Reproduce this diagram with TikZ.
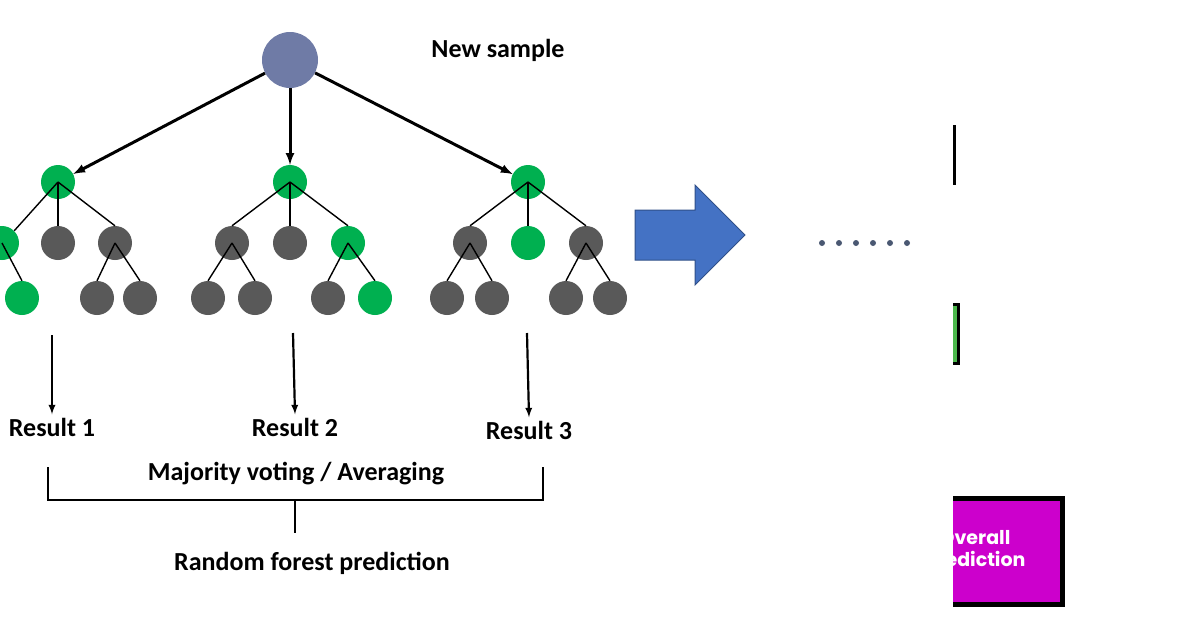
\documentclass[tikz,border=0pt]{standalone}
\usepackage{fontspec}
\setmainfont{Carlito}
\newfontfamily\popfont{Poppins}
\definecolor{leafgreen}{HTML}{00B050}
\definecolor{leafgray}{HTML}{595959}
\definecolor{rootblue}{HTML}{6F7BA6}
\definecolor{arrowblue}{HTML}{4472C4}
\definecolor{dotblue}{HTML}{4A5872}
\definecolor{boxpurple}{HTML}{CC00CC}
\tikzset{
  sel/.style = {circle, fill = leafgreen, minimum size = 34pt, inner sep = 0pt},
  oth/.style = {circle, fill = leafgray, minimum size = 34pt, inner sep = 0pt},
  branch/.style = {line width = 1.4pt},
  label text/.style = {font = \fontsize{26}{30}\selectfont\bfseries}
}
\begin{document}
\begin{tikzpicture}[x = 1pt, y = -1pt]
    \useasboundingbox (0, 0) rectangle (1200, 630);
    \node[circle, fill = rootblue, minimum size = 56pt, inner sep = 0pt] (sample) at (290, 60) {};
    \node[label text] (new sample) at (498, 50) {New sample};
    % first tree
    \node[sel] (t1) at (58, 182) {};
    \node[sel] (t1a) at (2, 243) {};
    \node[oth] (t1b) at (58, 243) {};
    \node[oth] (t1c) at (115, 243) {};
    \node[sel] (t1aa) at (22, 298) {};
    \node[oth] (t1ca) at (97, 298) {};
    \node[oth] (t1cb) at (140, 298) {};
    \draw[branch] (t1.center) -- (t1a.north east);
    \draw[branch] (t1.center) -- (t1b);
    \draw[branch] (t1.center) -- (t1c.north);
    \draw[branch] (t1a.center) -- (t1aa.north);
    \draw[branch] (t1c.center) -- (t1ca.north);
    \draw[branch] (t1c.center) -- (t1cb.north);
    % second tree
    \node[sel] (t2) at (290, 182) {};
    \node[oth] (t2a) at (232, 243) {};
    \node[oth] (t2b) at (290, 243) {};
    \node[sel] (t2c) at (348, 243) {};
    \node[oth] (t2aa) at (208, 298) {};
    \node[oth] (t2ab) at (255, 298) {};
    \node[oth] (t2ca) at (328, 298) {};
    \node[sel] (t2cb) at (375, 298) {};
    \draw[branch] (t2.center) -- (t2a.north);
    \draw[branch] (t2.center) -- (t2b);
    \draw[branch] (t2.center) -- (t2c.north);
    \draw[branch] (t2a.center) -- (t2aa.north);
    \draw[branch] (t2a.center) -- (t2ab.north);
    \draw[branch] (t2c.center) -- (t2ca.north);
    \draw[branch] (t2c.center) -- (t2cb.north);
    % third tree
    \node[sel] (t3) at (528, 182) {};
    \node[oth] (t3a) at (470, 243) {};
    \node[sel] (t3b) at (528, 243) {};
    \node[oth] (t3c) at (586, 243) {};
    \node[oth] (t3aa) at (447, 298) {};
    \node[oth] (t3ab) at (492, 298) {};
    \node[oth] (t3ca) at (566, 298) {};
    \node[oth] (t3cb) at (610, 298) {};
    \draw[branch] (t3.center) -- (t3a.north);
    \draw[branch] (t3.center) -- (t3b);
    \draw[branch] (t3.center) -- (t3c.north);
    \draw[branch] (t3a.center) -- (t3aa.north);
    \draw[branch] (t3a.center) -- (t3ab.north);
    \draw[branch] (t3c.center) -- (t3ca.north);
    \draw[branch] (t3c.center) -- (t3cb.north);
    \draw[->, line width = 3pt, >=latex] (sample) -- (t1);
    \draw[->, line width = 3pt, >=latex] (sample) -- (t2);
    \draw[->, line width = 3pt, >=latex] (sample) -- (t3);
    % results
    \coordinate (out1) at (52, 335);
    \coordinate (out2) at (293, 333);
    \coordinate (out3) at (527, 333);
    \node[label text] (result 1) at (52, 427) {Result 1};
    \node[label text] (result 2) at (295, 427) {Result 2};
    \node[label text] (result 3) at (529, 430) {Result 3};
    \draw[->, line width = 2.2pt, >=latex] (out1) -- (result 1.north);
    \draw[->, line width = 2.2pt, >=latex] (out2) -- (result 2.north);
    \draw[->, line width = 2.2pt, >=latex] (out3) -- (result 3.north);
    \node[label text] (voting) at (296, 474) {Majority voting / Averaging};
    \coordinate (brace left) at (48, 467);
    \coordinate (brace right) at (543, 467);
    \coordinate (brace mid) at (295, 500);
    \coordinate (brace tick) at (295, 533);
    \draw[line width = 1.4pt] (brace left) |- (brace right |- brace mid) -- (brace right);
    \draw[line width = 1.4pt] (brace mid) -- (brace tick);
    \node[label text] (forest prediction) at (312, 563) {Random forest prediction};
    % big arrow and the cut-off panel
    \draw[fill = arrowblue, draw = arrowblue!70!black, line width = 1pt]
      (635, 210) -- (695, 210) -- (695, 185) -- (745, 235) -- (695, 285) -- (695, 260) -- (635, 260) -- cycle;
    \foreach \dx in {0, 17, 34, 51, 68, 85}
      \fill[dotblue] (822 + \dx, 243) circle (3pt);
    \draw[line width = 3pt] (954, 125) -- (954, 185);
    \fill[green!60!black!70] (953, 303) rectangle (957, 365);
    \draw[line width = 3pt] (953, 304.5) -- (958.5, 304.5) -- (958.5, 363.5) -- (953, 363.5);
    \begin{scope}
      \clip (953, 490) rectangle (1070, 612);
      \draw[fill = boxpurple, line width = 5pt] (940, 498) rectangle (1062, 604);
      \node[text = white, align = center, font = \popfont\fontsize{19}{22}\selectfont\bfseries] (overall) at (975, 551) {Overall\\prediction};
    \end{scope}
\end{tikzpicture}
\end{document}
